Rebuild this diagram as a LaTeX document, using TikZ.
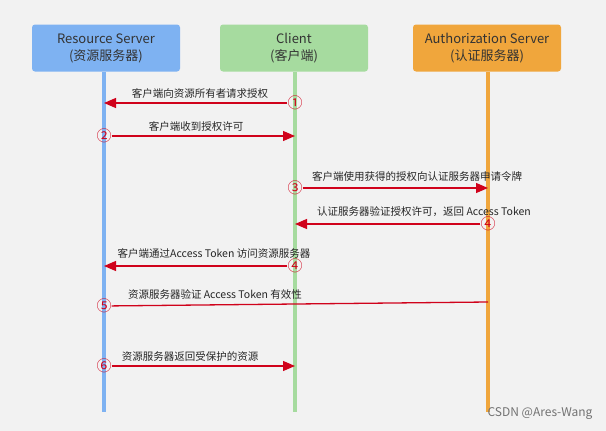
\documentclass[tikz,border=0pt]{standalone}
\usepackage{fontspec}
\setmainfont{Noto Sans CJK SC}
\usetikzlibrary{arrows.meta}
\definecolor{rsblue}{HTML}{7EB2F2}
\definecolor{clgreen}{HTML}{A6DB9F}
\definecolor{asorange}{HTML}{F0A63C}
\definecolor{msgred}{HTML}{D0021B}
\begin{document}
\begin{tikzpicture}[x=1pt,y=-1pt,
  head/.style={rounded corners=3pt,minimum width=148pt,minimum height=47pt,align=center,font=\fontsize{13}{17}\selectfont,text=black!80},
  life/.style={line width=4pt},
  msg/.style={draw=msgred,line width=1.3pt,-{Triangle[length=12pt,width=10pt]}},
  lbl/.style={font=\fontsize{10.5}{12}\selectfont,text=black!85},
  num/.style={text=msgred,font=\fontsize{15}{15}\selectfont,inner sep=0pt}]
\fill[black!5] (0,0) rectangle (606,431);
\node[head,fill=rsblue] (rs) at (106,48) {Resource Server\\(资源服务器)};
\node[head,fill=clgreen] (cl) at (294,48) {Client\\(客户端)};
\node[head,fill=asorange] (as) at (487,48) {Authorization Server\\(认证服务器)};
\coordinate (rsb) at (104,412);
\coordinate (clb) at (295,412);
\coordinate (asb) at (488,412);
\draw[life,rsblue] (104,72) -- (rsb);
\draw[life,clgreen] (295,72) -- (clb);
\draw[life,asorange] (488,72) -- (asb);
% messages
\node[num] (n1) at (295,103) {①};
\coordinate (e1) at (104,103);
\draw[msg] (n1) -- (e1);
\node[lbl] at (200,93) {客户端向资源所有者请求授权};
\node[num] (n2) at (104,136) {②};
\coordinate (e2) at (295,136);
\draw[msg] (n2) -- (e2);
\node[lbl] at (196,126) {客户端收到授权许可};
\node[num] (n3) at (295,188) {③};
\coordinate (e3) at (488,188);
\draw[msg] (n3) -- (e3);
\node[lbl] at (417,176) {客户端使用获得的授权向认证服务器申请令牌};
\node[num] (n4) at (488,224) {④};
\coordinate (e4) at (295,224);
\draw[msg] (n4) -- (e4);
\node[lbl] at (424,212) {认证服务器验证授权许可，返回 Access Token};
\node[num] (n4b) at (295,266) {④};
\coordinate (e4b) at (104,266);
\draw[msg] (n4b) -- (e4b);
\node[lbl] at (214,253) {客户端通过Access Token 访问资源服务器};
\coordinate (s5) at (488,302);
\node[num] (n5) at (104,306) {⑤};
\draw[draw=msgred,line width=1.3pt] (s5) -- (n5);
\node[lbl] at (215,294) {资源服务器验证 Access Token 有效性};
\node[num] (n6) at (104,366) {⑥};
\coordinate (e6) at (295,366);
\draw[msg] (n6) -- (e6);
\node[lbl] at (190,356) {资源服务器返回受保护的资源};
\node[font=\fontsize{12}{14}\selectfont,text=black!55] (wm) at (540,414) {CSDN @Ares-Wang};
\end{tikzpicture}
\end{document}
